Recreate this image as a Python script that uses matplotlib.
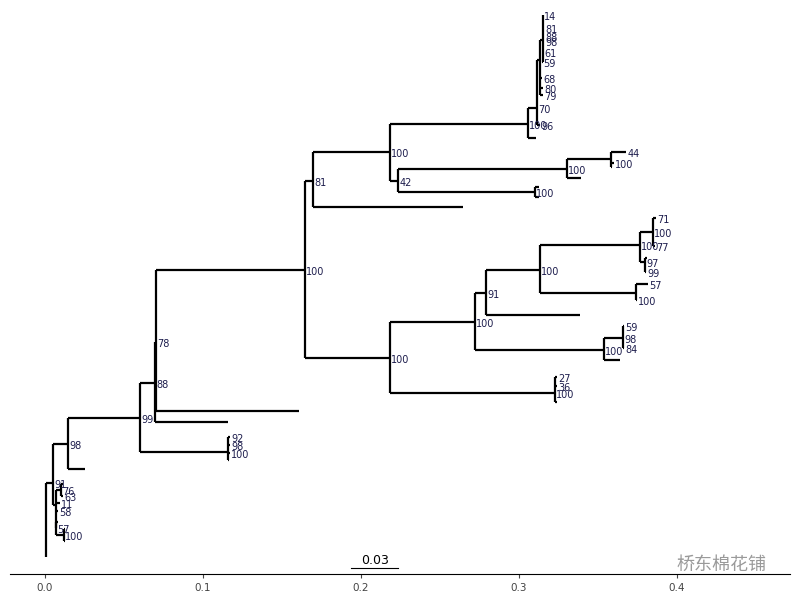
import matplotlib
matplotlib.use('Agg')
from matplotlib import pyplot as plot

# tree nodes: name, parent, depth (pixel column), row (pixel row), support label
NODES = [
    ('root', None, 46, 536, ''),
    ('t_r', 'root', 46, 557, ''),
    ('n53', 'root', 53, 483, '91'),
    ('n68', 'n53', 68, 444, '98'),
    ('ncl', 'n53', 56, 505, ''),
    ('c1', 'ncl', 61, 490, '76'),
    ('c1a', 'c1', 63, 484, ''),
    ('c1b', 'c1', 63, 496, '63'),
    ('c2', 'ncl', 60, 503, '11'),
    ('c3', 'ncl', 58, 511, '58'),
    ('c4', 'ncl', 56, 528, '57'),
    ('c4a', 'c4', 58, 522, ''),
    ('c5', 'c4', 64, 535, '100'),
    ('c5a', 'c5', 65, 529, ''),
    ('c5b', 'c5', 65, 541, ''),
    ('t69', 'n68', 85, 469, ''),
    ('n140', 'n68', 140, 418, '99'),
    ('n88', 'n140', 155, 383, '88'),
    ('n228', 'n140', 228, 452, ''),
    ('g1', 'n228', 230, 437, '92'),
    ('g2', 'n228', 230, 445, '98'),
    ('g3', 'n228', 230, 453, '100'),
    ('g4', 'n228', 229, 460, ''),
    ('n78', 'n88', 156, 342, '78'),
    ('t228', 'n88', 228, 422, ''),
    ('nbig', 'n78', 305, 270, '100'),
    ('t299', 'n78', 299, 411, ''),
    ('n81', 'nbig', 313, 181, '81'),
    ('n390', 'nbig', 390, 358, '100'),
    ('n390t', 'n81', 390, 152, '100'),
    ('t463', 'n81', 463, 207, ''),
    ('nclu', 'n390t', 528, 124, '100'),
    ('n398', 'n390t', 398, 181, '42'),
    ('n567', 'n398', 567, 169, '100'),
    ('n535', 'n398', 535, 192, '100'),
    ('n535a', 'n535', 539, 187, ''),
    ('n535b', 'n535', 539, 197, ''),
    ('n611', 'n567', 611, 159, ''),
    ('t581', 'n567', 581, 178, ''),
    ('n611a', 'n611', 626, 152, '44'),
    ('n611b', 'n611', 614, 163, '100'),
    ('n611c', 'n611', 612, 167, ''),
    ('t536', 'nclu', 536, 138, ''),
    ('n537', 'nclu', 537, 108, '70'),
    ('t96', 'n537', 540, 125, '96'),
    ('n540', 'n537', 540, 60, ''),
    ('n543', 'n540', 543, 40, ''),
    ('k1', 'n543', 543, 15, '14'),
    ('k2', 'n543', 544, 28, '81'),
    ('k3', 'n543', 544, 36, '88'),
    ('k4', 'n543', 544, 41, '98'),
    ('k5', 'n543', 543, 52, '61'),
    ('k6', 'n543', 542, 62, '59'),
    ('k7', 'n540', 542, 78, '68'),
    ('k8', 'n540', 543, 88, '80'),
    ('k9', 'n540', 543, 95, '79'),
    ('n475', 'n390', 475, 322, '100'),
    ('n555', 'n390', 555, 393, '100'),
    ('s1', 'n555', 557, 377, '27'),
    ('s2', 'n555', 557, 386, '36'),
    ('s3', 'n555', 557, 402, ''),
    ('n486', 'n475', 486, 293, '91'),
    ('n604', 'n475', 604, 350, '100'),
    ('n623', 'n604', 623, 338, '98'),
    ('p1', 'n623', 624, 326, '59'),
    ('p2', 'n623', 624, 348, '84'),
    ('t620', 'n604', 620, 360, ''),
    ('n540b', 'n486', 540, 270, '100'),
    ('t580', 'n486', 580, 315, ''),
    ('n640', 'n540b', 640, 245, '100'),
    ('n636', 'n540b', 636, 293, ''),
    ('q1', 'n636', 648, 284, '57'),
    ('q2', 'n636', 637, 300, '100'),
    ('n653', 'n640', 653, 232, '100'),
    ('r1', 'n653', 656, 218, '71'),
    ('r2', 'n653', 655, 246, '77'),
    ('n645', 'n640', 645, 262, '97'),
    ('u1', 'n645', 647, 258, ''),
    ('u2', 'n645', 646, 272, '99'),
]

X_TICKS = [0.0, 0.1, 0.2, 0.3, 0.4]
SCALE_LABEL = '0.03'
WATERMARK = '桥东棉花铺'

PX_PER_UNIT = 1580.0
X0_PX = 45


def to_x(px):
    return (px - X0_PX) / PX_PER_UNIT


figure = plot.figure(figsize=(8, 6), dpi=100)
figure.set_facecolor('white')
ax = figure.add_axes([10 / 800, 1 - 574 / 600, 780 / 800, 574 / 600])

nodes = {name: (parent, to_x(x), y, label) for name, parent, x, y, label in NODES}
children = {}
for name, (parent, x, y, label) in nodes.items():
    if parent is not None:
        children.setdefault(parent, []).append(name)

line = dict(color='black', lw=1.6, solid_capstyle='butt')
for name, (parent, x, y, label) in nodes.items():
    if parent is not None:
        px = nodes[parent][1]
        ax.plot([px, x], [y, y], **line)
    if name in children:
        ys = [nodes[c][2] for c in children[name]] + [y]
        ax.plot([x, x], [min(ys), max(ys)], **line)
    if label:
        ax.text(x + 0.0008, y + 2, label, fontsize=7, color='#1c1c4c',
                ha='left', va='center')

# scale bar
ax.plot([to_x(351), to_x(398)], [568, 568], color='black', lw=0.8)
ax.text(to_x(375), 560, SCALE_LABEL, fontsize=9, ha='center', va='center')

ax.set_xlim(to_x(10), to_x(790))
ax.set_ylim(574, 0)
ax.set_xticks(X_TICKS)
ax.set_xticklabels([f'{t:.1f}' for t in X_TICKS], fontsize=7.5, color='#444444')
ax.tick_params(axis='x', length=3, color='#444444')
ax.set_yticks([])
for side in 'top', 'left', 'right':
    ax.spines[side].set_visible(False)
ax.spines['bottom'].set_linewidth(0.8)

figure.text(0.845, 0.058, WATERMARK, fontsize=13, color='#9a9a9a', ha='left', va='center',
            family=['Noto Sans CJK SC', 'DejaVu Sans'])

figure.savefig('out.png', dpi=100)
